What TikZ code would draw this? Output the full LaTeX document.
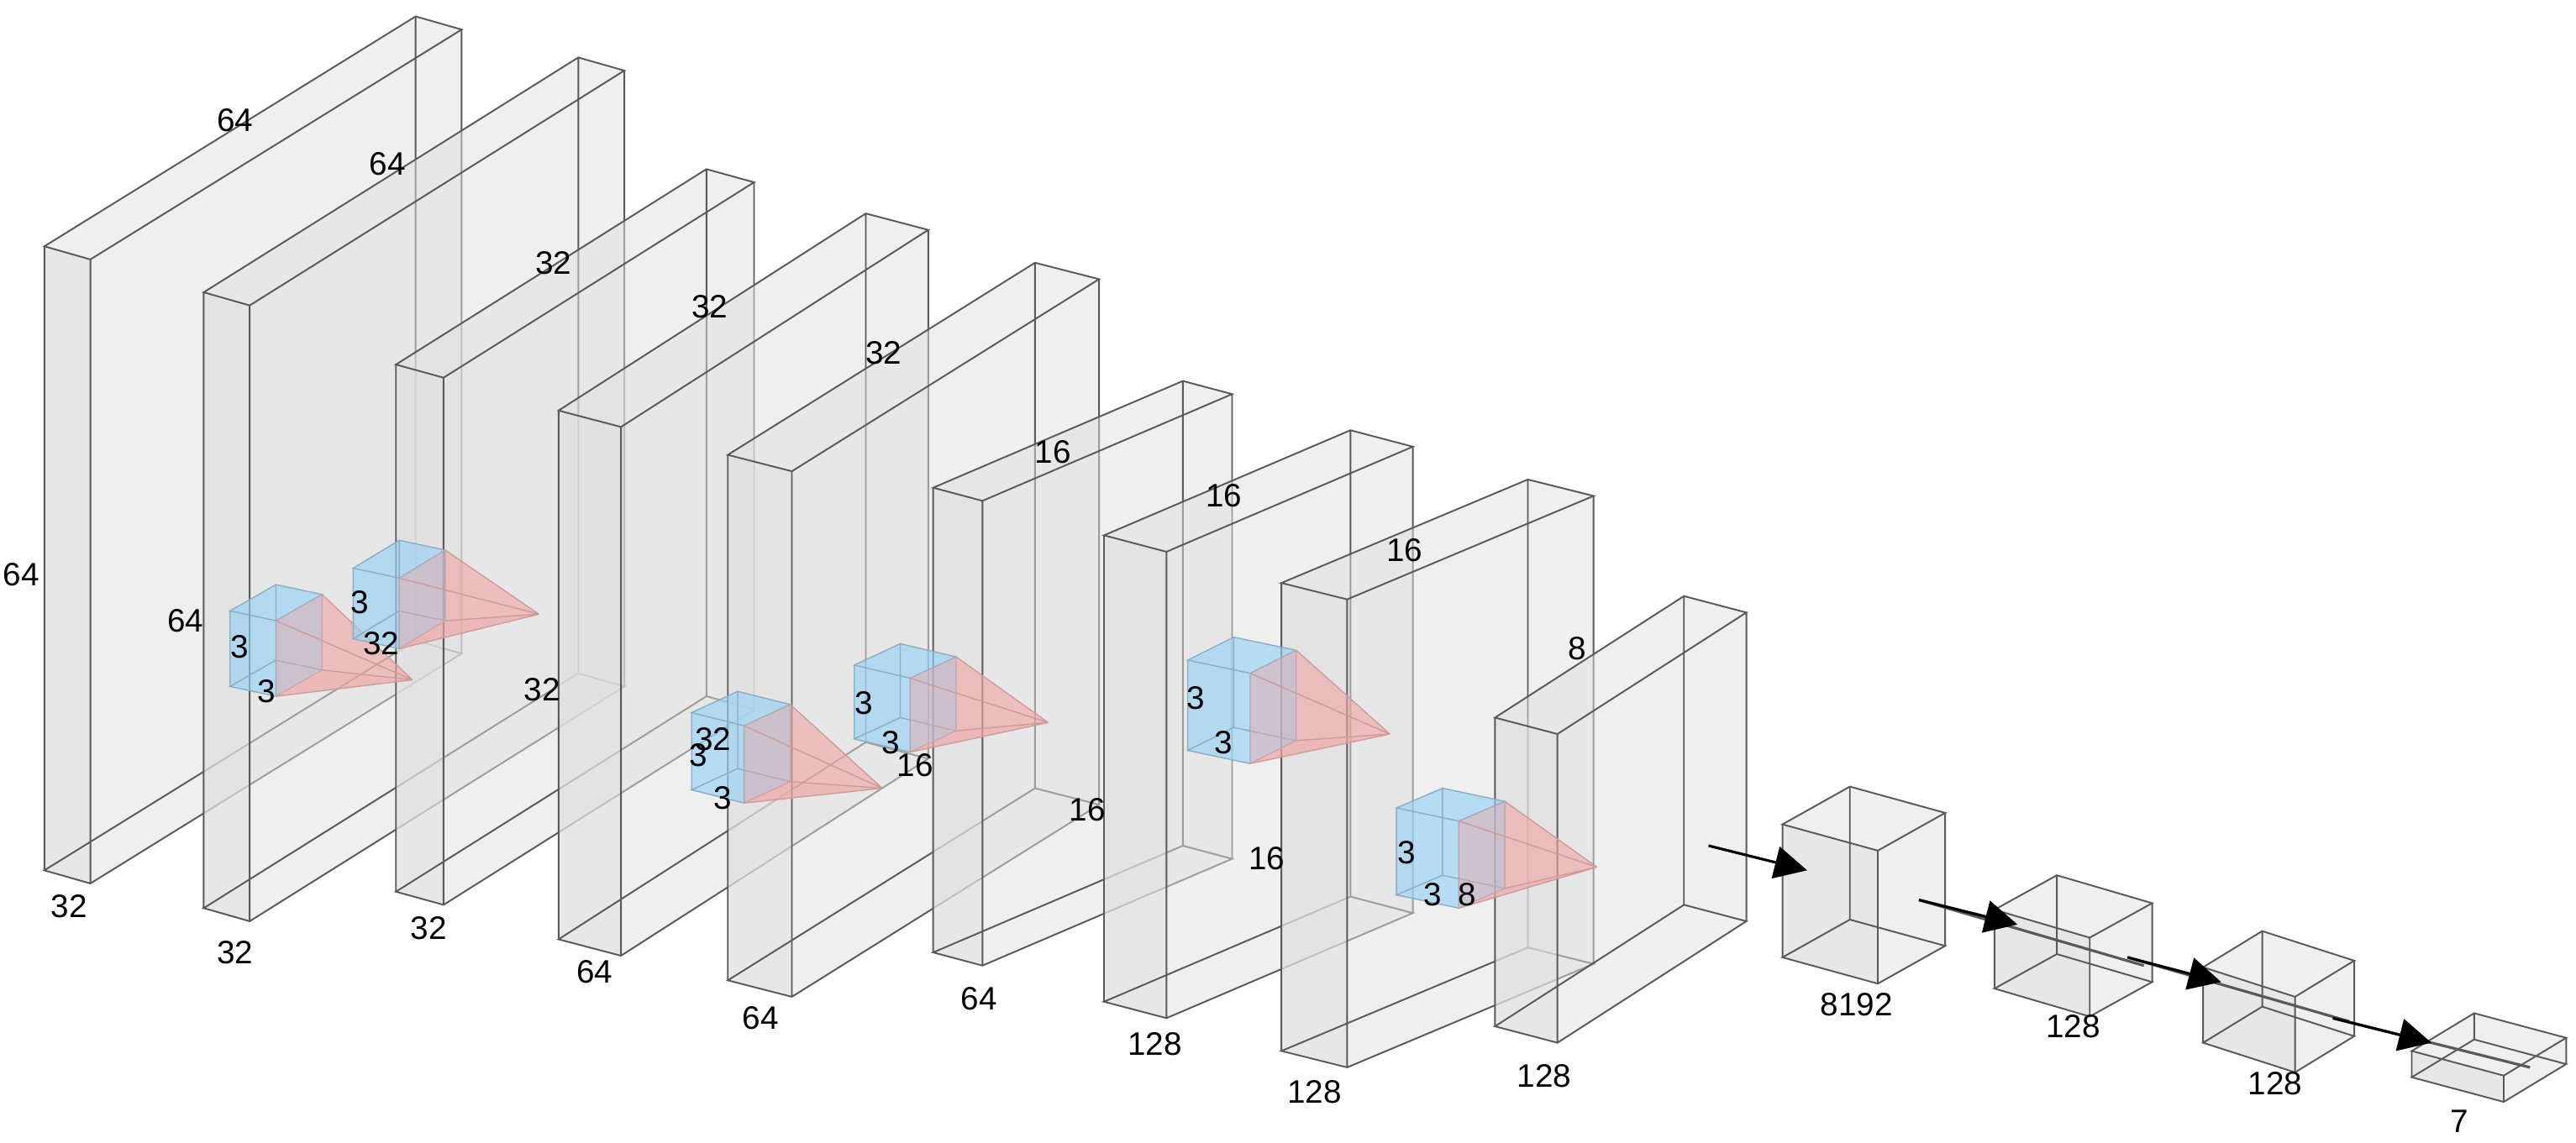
\documentclass[tikz,border=0pt]{standalone}
\usepackage{fontspec}
\setmainfont{Liberation Sans}
\usetikzlibrary{arrows.meta,calc}
\definecolor{edge}{gray}{0.35}
\definecolor{slabfill}{gray}{0.88}
\definecolor{kblue}{RGB}{150,210,245}
\definecolor{kpink}{RGB}{240,165,165}
\tikzset{
  edgeline/.style={draw=edge,line width=0.55pt},
  lbl/.style={font=\fontsize{11}{13}\selectfont,inner sep=0pt},
  flowline/.style={draw=gray!70!black,line width=0.9pt},
  flowhead/.style={-{Triangle[length=11pt,width=11pt]},line width=0.9pt,draw=black}
}
\newcommand\myslab[8]{%
  \coordinate (t) at (#1,#2);
  \coordinate (td) at ($(t)+(#3,#4)$);
  \coordinate (tw) at ($(t)+(#6,#7)$);
  \coordinate (tdw) at ($(td)+(#6,#7)$);
  \coordinate (b) at ($(t)+(0,#5)$);
  \coordinate (bd) at ($(td)+(0,#5)$);
  \coordinate (bw) at ($(tw)+(0,#5)$);
  \coordinate (bdw) at ($(tdw)+(0,#5)$);
  \fill[#8] (t)--(tw)--(tdw)--(bdw)--(bd)--(b)--cycle;
  \fill[#8] (t)--(td)--(bd)--(b)--cycle;
  \draw[edgeline] (t)--(td)--(tdw)--(tw)--cycle (b)--(bd)--(bdw)--(bw)--cycle
    (t)--(b) (td)--(bd) (tw)--(bw) (tdw)--(bdw);
}
\newcommand\mykern[9]{%
  \coordinate (t) at (#1,#2);
  \coordinate (td) at ($(t)+(#3,#4)$);
  \coordinate (tw) at ($(t)+(#6,#7)$);
  \coordinate (tdw) at ($(td)+(#6,#7)$);
  \coordinate (b) at ($(t)+(0,#5)$);
  \coordinate (bd) at ($(td)+(0,#5)$);
  \coordinate (bw) at ($(tw)+(0,#5)$);
  \coordinate (bdw) at ($(tdw)+(0,#5)$);
  \coordinate (apx) at (#8,#9);
  \fill[kblue,opacity=0.65] (t)--(tw)--(tdw)--(bdw)--(bd)--(b)--cycle;
  \draw[draw=kblue!55!gray,line width=0.4pt] (t)--(td)--(tdw)--(tw)--cycle (b)--(bd)--(bdw)--(bw)--cycle
    (t)--(b) (td)--(bd) (tw)--(bw) (tdw)--(bdw);
  \fill[kpink,opacity=0.45] (td)--(tdw)--(apx)--cycle;
  \fill[kpink,opacity=0.45] (td)--(bd)--(apx)--cycle;
  \fill[kpink,opacity=0.45] (bd)--(bdw)--(apx)--cycle;
  \fill[kpink,opacity=0.3] (tdw)--(bdw)--(apx)--cycle;
  \draw[draw=kpink!70!gray,line width=0.4pt] (td)--(apx) (tdw)--(apx) (bd)--(apx) (bdw)--(apx);
}
\begin{document}
\begin{tikzpicture}[x=0.019554cm,y=-0.019554cm]
\fill[white] (0,0) rectangle (1568,695.6);
\useasboundingbox (0,0) rectangle (1568,695.6);
\tikzset{sl/.style={fill=slabfill,opacity=0.5}}
\myslab{27}{150}{28}{8}{380}{226}{-140}{sl}
\myslab{124}{178}{28}{8}{375}{228}{-143}{sl}
\myslab{241}{222}{29}{8}{321}{189}{-119}{sl}
\myslab{340}{250}{38}{10}{322}{187}{-120}{sl}
\myslab{443}{277}{39}{10}{320}{187}{-117}{sl}
\myslab{568}{297}{30}{8}{283}{152}{-65}{sl}
\myslab{672}{326}{38}{10}{284}{150}{-64}{sl}
\myslab{780}{355}{40}{10}{285}{150}{-63}{sl}
\myslab{910}{437}{38}{10}{188}{115}{-74}{sl}
\myslab{1085}{502}{58}{16}{81}{41}{-23}{sl}
\myslab{1214}{554}{58}{17}{48}{38}{-21}{sl}
\myslab{1341}{589}{56}{18}{46}{36}{-22}{sl}
\myslab{1468}{640}{56}{15}{16}{38}{-23}{sl}
\mykern{140}{372}{28}{6}{46}{28}{-16}{251}{414}
\mykern{215}{346}{28}{6}{43}{28}{-17}{328}{374}
\mykern{421}{434}{32}{8}{47}{28}{-13}{537}{480}
\mykern{520}{405}{34}{8}{45}{28}{-13}{638}{440}
\mykern{723}{402}{38}{8}{55}{28}{-14}{846}{447}
\mykern{850}{492}{38}{8}{53}{28}{-12}{972}{528}
\coordinate (a1s) at (1040,515); \coordinate (a1e) at (1100,530);
\coordinate (a2s) at (1168,548); \coordinate (a2e) at (1228,563); \coordinate (a2x) at (1305,588);
\coordinate (a3s) at (1295,583); \coordinate (a3e) at (1352,598); \coordinate (a3x) at (1430,622);
\coordinate (a4s) at (1420,620); \coordinate (a4e) at (1480,635); \coordinate (a4x) at (1540,650);
\draw[flowline] (a2s)--(a2x); \draw[flowline] (a3s)--(a3x); \draw[flowline] (a4s)--(a4x);
\draw[flowhead] (a1s)--(a1e);
\draw[flowhead] (a2s)--(a2e);
\draw[flowhead] (a3s)--(a3e);
\draw[flowhead] (a4s)--(a4e);
\foreach \n/\x/\y/\t in {t1/143/73/64,t2/236/100/64,t3/337/160/32,t4/432/187/32,t5/538/215/32,t6/641/275/16,t7/745/302/16,t8/855/335/16,t9/960/395/8,
  l1/13/350/64,l2/113/378/64,l3/232/392/32,l4/330/420/32,l5/434/450/32,l6/557/466/16,l7/662/493/16,l8/771/523/16,l9/893/545/8,
  b1/42/552/32,b2/143/580/32,b3/261/565/32,b4/362/592/64,b5/463/620/64,b6/596/608/64,b7/703/636/128,b8/800/665/128,b9/940/655/128,
  f1/1130/612/8192,f2/1262/625/128,f3/1385/660/128,f4/1497/683/7,
  k1a/146/394/3,k1b/162/421/3,k2a/219/367/3,k3a/425/460/3,k3b/440/486/3,k4a/526/428/3,k4b/542/452/3,k5a/728/425/3,k5b/745/452/3,k6a/856/519/3,k6b/872/545/3}
  \node[lbl] (\n) at (\x,\y) {\t};
\end{tikzpicture}
\end{document}
